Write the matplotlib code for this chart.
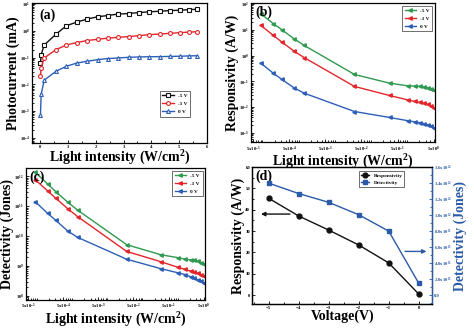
import matplotlib
matplotlib.use("Agg")
import matplotlib.pyplot as plt
import numpy as np

plt.rcParams['font.family'] = ['Liberation Serif', 'DejaVu Serif']
plt.rcParams['font.weight'] = 'bold'
plt.rcParams['axes.labelweight'] = 'bold'
plt.rcParams['mathtext.fontset'] = 'custom'
plt.rcParams['mathtext.rm'] = 'Liberation Serif:bold'
plt.rcParams['mathtext.it'] = 'Liberation Serif:bold'
plt.rcParams['mathtext.bf'] = 'Liberation Serif:bold'

# ---------------- data ----------------
series_labels = ["-5 V", "-1 V", "0 V"]

# (a) photocurrent vs linear intensity
a_intensity = [0.005, 0.03, 0.14, 0.56, 0.94, 1.31, 1.69, 2.06, 2.43, 2.80,
               3.18, 3.55, 3.92, 4.30, 4.67, 5.04, 5.35, 5.63]
a_m5 = [0.063, 0.13, 0.30, 0.75, 1.58, 2.15, 2.8, 3.4, 3.8, 4.3, 4.5, 4.9,
        5.2, 5.5, 5.8, 6.0, 6.3, 6.5]
a_m1 = [0.0215, 0.042, 0.098, 0.20, 0.30, 0.37, 0.44, 0.49, 0.54, 0.58,
        0.62, 0.67, 0.73, 0.77, 0.82, 0.87, 0.91, 0.94]
a_0 = [0.0007, 0.0043, 0.0145, 0.031, 0.048, 0.063, 0.074, 0.085, 0.093,
       0.098, 0.104, 0.107, 0.109, 0.110, 0.112, 0.114, 0.117, 0.119]

# (b),(c) log intensity
bc_intensity = [8e-5, 1.8e-4, 3.1e-4, 6.7e-4, 1.3e-3, 0.032, 0.30, 0.95,
                1.5, 2.1, 2.7, 3.4, 4.2, 5.0]
b_m5 = [43, 17.7, 10.3, 4.6, 2.5, 0.187, 0.086, 0.068, 0.066, 0.064, 0.061,
        0.058, 0.053, 0.048]
b_m1 = [15.2, 6.2, 3.4, 1.52, 0.84, 0.064, 0.0285, 0.0193, 0.0167, 0.0155,
        0.0142, 0.0128, 0.0112, 0.0095]
b_0 = [0.52, 0.21, 0.12, 0.057, 0.035, 0.0068, 0.0040, 0.0030, 0.0027,
       0.0025, 0.0023, 0.0021, 0.0018, 0.0015]

c_m5 = [1.38e12, 5.6e11, 3.1e11, 1.38e11, 7.4e10, 5.2e9, 2.4e9, 1.9e9, 1.7e9,
        1.6e9, 1.55e9, 1.45e9, 1.3e9, 1.17e9]
c_m1 = [7.8e11, 3.3e11, 1.86e11, 8.4e10, 4.5e10, 3.1e9, 1.4e9, 9.0e8, 7.7e8,
        6.8e8, 6.3e8, 5.8e8, 5.2e8, 4.6e8]
c_0 = [1.45e11, 5.8e10, 3.4e10, 1.49e10, 9.1e9, 1.7e9, 8.2e8, 5.9e8, 5.2e8,
       4.4e8, 3.9e8, 3.5e8, 3.1e8, 2.7e8]

bc_xticks = [5e-5, 5e-4, 5e-3, 5e-2, 5e-1, 5e0]
bc_xticklabels = ["5x10$^{-5}$", "5x10$^{-4}$", "5x10$^{-3}$", "5x10$^{-2}$",
                  "5x10$^{-1}$", "5x10$^{0}$"]

# (d) vs voltage
d_voltage = [-5, -4, -3, -2, -1, 0]
d_resp = [45.4, 37.1, 30.5, 23.5, 15.1, 0.5]
d_det = [1.40e12, 1.27e12, 1.16e12, 1.005e12, 0.80e12, 0.148e12]
d_right_ticks = [0, 0.2e12, 0.4e12, 0.6e12, 0.8e12, 1.0e12, 1.2e12, 1.4e12, 1.6e12]
d_right_labels = ["0.0", "2.0x10$^{11}$", "4.0x10$^{11}$", "6.0x10$^{11}$",
                  "8.0x10$^{11}$", "1.0x10$^{12}$", "1.2x10$^{12}$",
                  "1.4x10$^{12}$", "1.6x10$^{12}$"]

# ---------------- style ----------------
BLACK = "#111111"
RED = "#e3262b"
BLUE = "#2d5fb8"
GREEN = "#2f9a50"
DBLUE = "#2a5aa8"

LAB = 10
TICK = 3.4
PAN = 10

fig = plt.figure(figsize=(4.74, 3.29), dpi=100)

def style(ax):
    for s in ax.spines.values():
        s.set_linewidth(0.9)
    ax.tick_params(which='both', direction='in', labelsize=TICK, pad=1.5,
                   width=0.6)
    ax.tick_params(which='major', length=2.5)
    ax.tick_params(which='minor', length=1.3)

# (a)
ax = fig.add_axes([0.0675, 0.565, 0.369, 0.426])
ax.plot(a_intensity, a_m5, '-s', color=BLACK, ms=2.8, mfc='white', mew=0.8,
        lw=1.0, label=series_labels[0])
ax.plot(a_intensity, a_m1, '-o', color=RED, ms=2.8, mfc='white', mew=0.8,
        lw=1.0, label=series_labels[1])
ax.plot(a_intensity, a_0, '-^', color=BLUE, ms=2.8, mfc='white', mew=0.8,
        lw=1.0, label=series_labels[2])
ax.set_yscale('log')
ax.set_xlim(-0.3, 6)
ax.set_ylim(6.4e-5, 11.2)
ax.set_xticks(range(0, 7))
ax.xaxis.set_minor_locator(matplotlib.ticker.MultipleLocator(0.5))
style(ax)
ax.set_xlabel("Light intensity (W/cm$^2$)", fontsize=LAB, labelpad=0)
ax.set_ylabel("Photocurrent (mA)", fontsize=LAB, labelpad=0)
ax.text(0.04, 0.96, "(a)", transform=ax.transAxes, fontsize=PAN, va='top')
ax.legend(loc='lower right', bbox_to_anchor=(0.92, 0.17), fontsize=3.8,
          frameon=True, fancybox=False, edgecolor='black', handlelength=2.2,
          borderpad=0.5, labelspacing=0.6).get_frame().set_linewidth(0.5)

def bc_panel(rect, ys, ylim, ylabel, tag):
    ax = fig.add_axes(rect)
    for y, c, l in zip(ys, [GREEN, RED, BLUE], series_labels):
        ax.plot(bc_intensity, y, '-<', color=c, ms=2.5, lw=1.0, label=l)
    ax.set_xscale('log')
    ax.set_yscale('log')
    ax.set_xlim(4.4e-5, 5.5)
    ax.set_ylim(*ylim)
    ax.set_xticks(bc_xticks)
    ax.set_xticklabels(bc_xticklabels)
    style(ax)
    ax.set_xlabel("Light intensity (W/cm$^2$)", fontsize=LAB, labelpad=-0.5)
    ax.set_ylabel(ylabel, fontsize=LAB, labelpad=0)
    ax.text(0.02, 0.98, tag, transform=ax.transAxes, fontsize=PAN, va='top')
    lg = ax.legend(loc='upper right', fontsize=3.8, frameon=True,
                   fancybox=False, edgecolor='black', handlelength=2.2,
                   borderpad=0.5, labelspacing=0.6)
    lg.get_frame().set_linewidth(0.5)
    return ax

bc_panel([0.53, 0.568, 0.388, 0.423], [b_m5, b_m1, b_0], (4.4e-4, 112),
         "Responsivity (A/W)", "(b)")
bc_panel([0.055, 0.088, 0.378, 0.401], [c_m5, c_m1, c_0], (7.3e7, 1.9e12),
         "Detectivity (Jones)", "(c)")

# (d)
ax = fig.add_axes([0.532, 0.075, 0.38, 0.417])
ax.plot(d_voltage, d_resp, '-o', color=BLACK, ms=3.5, lw=1.0,
        label="Responsivity")
ax.set_xlim(-5.55, 0.45)
ax.set_ylim(-4.3, 60)
ax.set_xticks(d_voltage)
ax.set_yticks(range(0, 61, 10))
ax.xaxis.set_minor_locator(matplotlib.ticker.MultipleLocator(0.5))
ax.yaxis.set_minor_locator(matplotlib.ticker.MultipleLocator(5))
style(ax)
ax.set_xlabel("Voltage(V)", fontsize=LAB, labelpad=-0.5)
ax.set_ylabel("Responsivity (A/W)", fontsize=LAB, labelpad=0)
ax.text(0.02, 0.98, "(d)", transform=ax.transAxes, fontsize=PAN, va='top')
ax2 = ax.twinx()
ax2.plot(d_voltage, d_det, '-s', color=DBLUE, ms=3.3, lw=1.0,
         label="Detectivity")
ax2.set_ylim(-0.1147e12, 1.6e12)
ax2.set_yticks(d_right_ticks)
ax2.set_yticklabels(d_right_labels)
ax2.yaxis.set_minor_locator(matplotlib.ticker.MultipleLocator(0.1e12))
style(ax2)
ax2.spines['right'].set_color(DBLUE)
ax2.tick_params(axis='y', which='both', colors=DBLUE)
ax2.set_ylabel("Detectivity (Jones)", fontsize=LAB, color=DBLUE, labelpad=1)
ax.annotate("", xy=(-5.35, 38), xytext=(-4.2, 38),
            arrowprops=dict(arrowstyle='-|>', color=BLACK, lw=1.0,
                            mutation_scale=6))
ax.annotate("", xy=(0.35, 20.5), xytext=(-0.55, 20.5),
            arrowprops=dict(arrowstyle='-|>', color=DBLUE, lw=1.0,
                            mutation_scale=6))
h1, l1 = ax.get_legend_handles_labels()
h2, l2 = ax2.get_legend_handles_labels()
lg = ax2.legend(h1 + h2, l1 + l2, loc='upper right',
                bbox_to_anchor=(0.86, 0.99), fontsize=3.8, frameon=True,
                fancybox=False, edgecolor='black', handlelength=1.5,
                borderpad=0.4, labelspacing=0.4)
lg.get_frame().set_linewidth(0.5)

fig.savefig("out.png", dpi=100)
